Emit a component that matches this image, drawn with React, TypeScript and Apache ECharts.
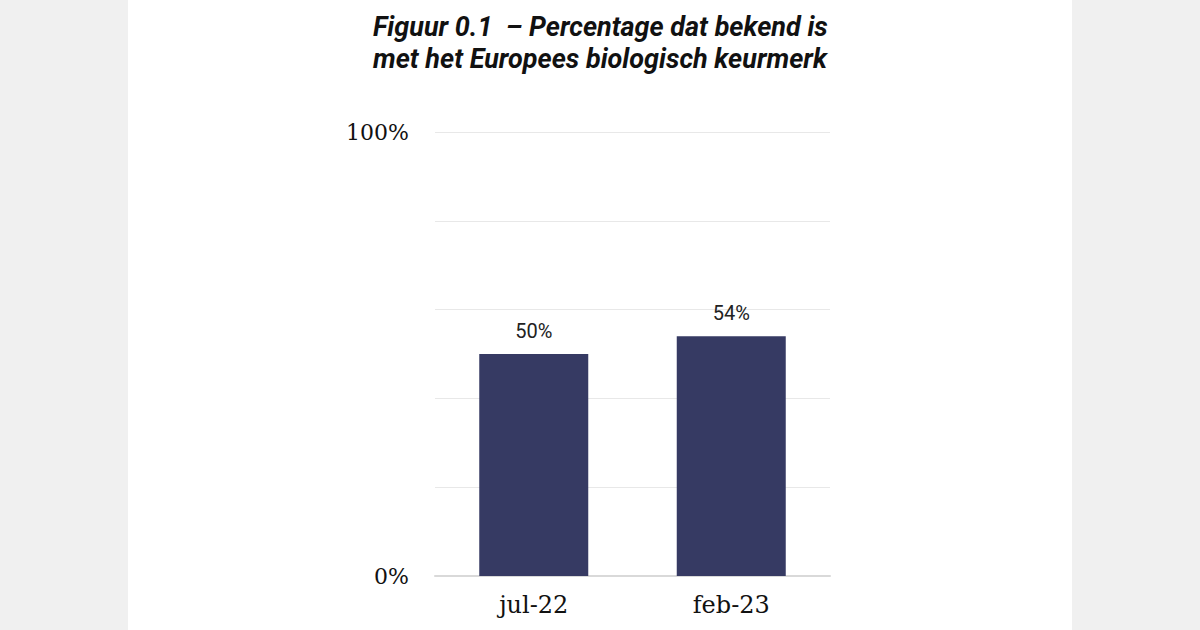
import React, { useEffect, useRef } from "react";
import * as echarts from "echarts";

const categories = ["jul-22", "feb-23"];
const values = [50, 54];
const titleLines = ["Figuur 0.1  – Percentage dat bekend is", "met het Europees biologisch keurmerk"];

export default function App() {
  const ref = useRef<HTMLDivElement>(null);
  useEffect(() => {
    if (!ref.current) return;
    const chart = echarts.init(ref.current, null, { renderer: "svg" });
    chart.setOption({
      animation: false,
      backgroundColor: "#f0f0f0",
      graphic: [
        { type: "rect", z: -10, shape: { x: 128, y: 0, width: 944, height: 630 }, style: { fill: "#ffffff" } },
      ],
      title: {
        text: titleLines.join("\n"),
        left: 368,
        top: 6,
        textStyle: {
          fontFamily: "Roboto",
          fontStyle: "italic",
          fontWeight: "bold",
          fontSize: 27,
          lineHeight: 32,
          color: "#111111",
        },
      },
      grid: { left: 435, right: 370, top: 132, bottom: 54 },
      xAxis: {
        type: "category",
        data: categories,
        axisLine: { lineStyle: { color: "#d9d9d9", width: 2 } },
        axisTick: { show: false },
        axisLabel: { fontFamily: "DejaVu Serif", fontSize: 24, color: "#111111", margin: 17 },
      },
      yAxis: {
        type: "value",
        min: 0,
        max: 100,
        interval: 20,
        axisLine: { show: false },
        axisTick: { show: false },
        splitLine: { lineStyle: { color: "#e8e8e8", width: 1 } },
        axisLabel: {
          fontFamily: "DejaVu Serif",
          fontSize: 22,
          color: "#111111",
          margin: 26,
          formatter: (v: number) => (v === 0 || v === 100 ? v + "%" : ""),
        },
      },
      series: [
        {
          type: "bar",
          data: values,
          barWidth: 109,
          itemStyle: { color: "#363a63" },
          label: {
            show: true,
            position: "top",
            distance: 13,
            formatter: (p: any) => p.value + "%",
            fontFamily: "Roboto",
            fontSize: 20,
            color: "#222222",
          },
        },
      ],
    });
    return () => chart.dispose();
  }, []);
  return <div ref={ref} style={{ position: "fixed", left: 0, top: 0, width: 1200, height: 630 }} />;
}
